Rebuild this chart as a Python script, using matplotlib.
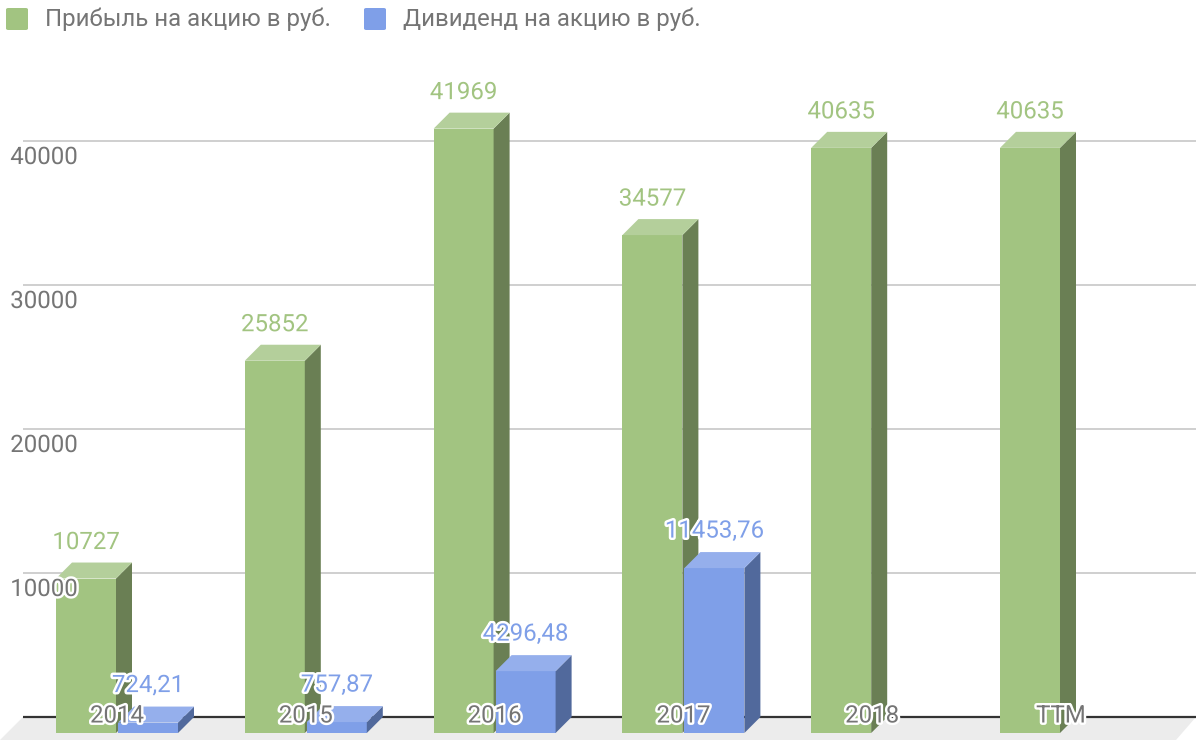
import matplotlib
matplotlib.use('Agg')
import matplotlib.pyplot as plt
import matplotlib.patheffects as pe
from matplotlib.patches import Polygon, FancyBboxPatch

plt.rcParams['font.family'] = ['Roboto', 'DejaVu Sans']

years = ['2014', '2015', '2016', '2017', '2018', 'TTM']
profit = [10727, 25852, 41969, 34577, 40635, 40635]
dividend = [724.21, 757.87, 4296.48, 11453.76]
y_ticks = [10000, 20000, 30000, 40000]
legend_names = ['Прибыль на акцию в руб.', 'Дивиденд на акцию в руб.']

GREEN = ('#a2c481', '#b4cf9b', '#6a7f54')
BLUE = ('#7f9fe8', '#95afec', '#51699c')
GREY = '#757575'

W, H = 1196, 740
px_x = 188.8        # pixels per category
px_y = 0.0144       # pixels per value unit
x0, y0 = 117, 717   # where category 0 / value 0 sit
bar_w = 60 / px_x
gap = 2 / px_x
dx = 16 / px_x
dy = 16 / px_y

fig = plt.figure(figsize=(W / 100, H / 100), dpi=100)
ax = fig.add_axes([0, 0, 1, 1])
ax.set_xlim(-x0 / px_x, (W - x0) / px_x)
ax.set_ylim(-(H - y0) / px_y, y0 / px_y)
ax.axis('off')

halo = [pe.withStroke(linewidth=3.5, foreground='white')]


def label(x, y, text, color, off_x=0, off_y=0, size=17.3):
    ax.annotate(text, (x, y), xytext=(off_x * 0.72, off_y * 0.72),
                textcoords='offset points', ha='center', va='center',
                fontsize=size, color=color, zorder=10, path_effects=halo)


def bar3d(x, v, colors, z):
    ax.bar(x, v, bar_w, bottom=-dy, align='edge', color=colors[0], zorder=z)
    r = x + bar_w
    ax.add_patch(Polygon([(r, -dy), (r + dx, 0), (r + dx, v), (r, v - dy)],
                         color=colors[2], lw=0, zorder=z))
    ax.add_patch(Polygon([(x, v - dy), (r, v - dy), (r + dx, v), (x + dx, v)],
                         color=colors[1], lw=0, zorder=z))


# floor and grid
left = (23 - x0) / px_x
right = (W - x0) / px_x
ax.add_patch(Polygon([(left, 0), (right, 0), (right - 20 / px_x, -1597), (-x0 / px_x, -1597)],
                     color='#ececec', lw=0, zorder=1))
ax.hlines(y_ticks, left, right, color='#cccccc', lw=1.3, zorder=2)
ax.hlines(0, left, right, color='#333333', lw=1.6, zorder=2)

for i, v in enumerate(profit):
    bar3d(i - gap / 2 - bar_w, v, GREEN, 3)
    label(i - gap / 2 - bar_w / 2, v, str(v), GREEN[0], off_y=20)
for i, v in enumerate(dividend):
    bar3d(i + gap / 2, v, BLUE, 4)
    label(i + gap / 2 + bar_w / 2 + dx / 2 - 8 / px_x, v, f'{v:.2f}'.replace('.', ','), BLUE[0], off_y=21)

for i, name in enumerate(years):
    label(i, 0, name, GREY, off_y=1)
for v in y_ticks:
    label(-x0 / px_x, v, str(v), GREY, off_x=44, off_y=-16.5)

# legend along the top
for sx, tx, name, col in zip([6, 364], [45, 403], legend_names, [GREEN[0], BLUE[0]]):
    fig.add_artist(FancyBboxPatch((sx / W, 1 - 30 / H), 22 / W, 22 / H,
                                  boxstyle='round,pad=0,rounding_size=0.002',
                                  transform=fig.transFigure, color=col, lw=0))
    fig.text(tx / W, 1 - 19 / H, name, color=GREY, fontsize=17.3, va='center', ha='left')

fig.savefig('out.png', dpi=100)
